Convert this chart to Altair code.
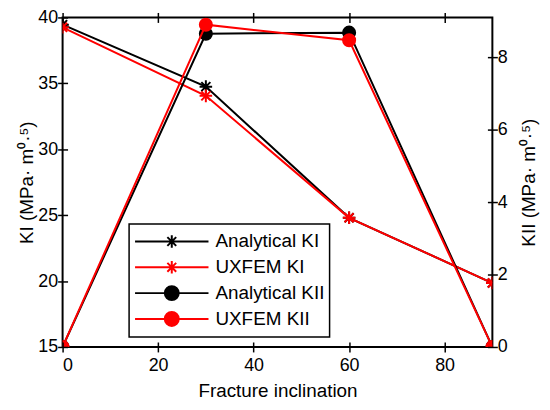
import altair as alt
import pandas as pd

# ---- data ----
angles = [0, 30, 60, 90]
ki_analytical = [39.45, 34.75, 24.8, 19.85]
ki_uxfem = [39.25, 34.05, 24.8, 19.85]
kii_analytical = [0.0, 8.65, 8.68, 0.0]
kii_uxfem = [0.0, 8.9, 8.47, 0.0]

series_names = ["Analytical KI", "UXFEM KI", "Analytical KII", "UXFEM KII"]
series_colors = ["#000000", "#ff0000", "#000000", "#ff0000"]
series_sides = ["left", "left", "right", "right"]
series_values = [ki_analytical, ki_uxfem, kii_analytical, kii_uxfem]

x_ticks = [0, 20, 40, 60, 80]
left_ticks = [15, 20, 25, 30, 35, 40]
right_ticks = [0, 2, 4, 6, 8]

rows = []
for name, vals, side in zip(series_names, series_values, series_sides):
    for a, v in zip(angles, vals):
        rows.append({"angle": a, "value": v, "series": name, "side": side})
df = pd.DataFrame(rows)

FONT = "Liberation Sans"

# marker shapes (unit square -1..1)
STAR = "M-1,0H1M0,-1V1M-0.72,-0.72L0.72,0.72M-0.72,0.72L0.72,-0.72"
LINE = "M-1,0H1"
star_leg = LINE + "M-0.17,0H0.17M0,-0.17V0.17M-0.12,-0.12L0.12,0.12M-0.12,0.12L0.12,-0.12"
circ_leg = LINE + "".join(
    f"M{r},0A{r},{r} 0 1,1 {-r},0A{r},{r} 0 1,1 {r},0" for r in [0.19, 0.155, 0.12, 0.085, 0.05, 0.02]
)
legend_shapes = [star_leg, star_leg, circ_leg, circ_leg]

x_scale = alt.Scale(domain=[0, 90], nice=False)
axis_common = dict(
    ticks=True, tickSize=10, offset=-5, domain=False, grid=False, tickColor="#000000",
    tickWidth=1.5, tickOpacity=1, zindex=2,
    labelColor="black", titleColor="black", labelFontSize=18, titleFontSize=19,
    labelFont=FONT, titleFont=FONT, titleFontWeight="normal",
)

x_bottom = alt.X("angle:Q", scale=x_scale,
                 axis=alt.Axis(values=x_ticks, orient="bottom", title="Fracture inclination",
                               labelPadding=5, titlePadding=7, **axis_common))
x_top = alt.X("angle:Q", scale=x_scale,
              axis=alt.Axis(values=x_ticks, orient="top", labels=False, title="", **axis_common))

y_left = alt.Y("value:Q", scale=alt.Scale(domain=[15, 40], nice=False, zero=False),
               axis=alt.Axis(values=left_ticks, orient="left", title="KI (MPa· m⁰·⁵)",
                             labelPadding=0, titlePadding=1, **axis_common))
y_right = alt.Y("value:Q", scale=alt.Scale(domain=[0, 9.1], nice=False, zero=False),
                axis=alt.Axis(values=right_ticks, orient="right", title="KII (MPa· m⁰·⁵)",
                              labelPadding=0, titlePadding=12, titleAngle=270, titleBaseline="top",
                              **axis_common))

base = alt.Chart(df)


def series_layers(name, color, x_enc, y_enc, star):
    sub = base.transform_filter(alt.datum.series == name)
    line = sub.mark_line(color=color, strokeWidth=2, clip=True).encode(x=x_enc, y=y_enc)
    if star:
        pts = sub.mark_point(shape=STAR, size=160, filled=False, color=color,
                             strokeWidth=2, opacity=1, clip=True).encode(x=x_enc, y=y_enc)
    else:
        pts = sub.mark_point(shape="circle", size=200, filled=True, color=color,
                             opacity=1, clip=True).encode(x=x_enc, y=y_enc)
    return [line, pts]


leg = alt.Legend(
    title=None, orient="none", legendX=67, legendY=208, direction="vertical",
    symbolSize=5476, symbolStrokeWidth=2, symbolOpacity=1,
    labelFontSize=19, labelFont=FONT, labelColor="black", labelOffset=6, labelLimit=300,
    clipHeight=25.5, rowPadding=0, padding=5, strokeColor="black", fillColor="white",
)

dummy = base.transform_filter(alt.datum.side == "left").mark_point(
    filled=False, opacity=0, strokeWidth=2, clip=True
).encode(
    x=x_bottom, y=y_left,
    color=alt.Color("series:N", scale=alt.Scale(domain=series_names, range=series_colors), legend=leg),
    shape=alt.Shape("series:N", scale=alt.Scale(domain=series_names, range=legend_shapes), legend=leg),
)

left_layers = []
for name, color in zip(series_names[:2], series_colors[:2]):
    left_layers += series_layers(name, color, x_bottom, y_left, True)
left_layers.append(dummy)
left = alt.layer(*left_layers)

right_layers = []
for name, color in zip(series_names[2:], series_colors[2:]):
    right_layers += series_layers(name, color, x_top, y_right, False)
right = alt.layer(*right_layers)

chart = alt.layer(left, right).resolve_scale(y="independent").resolve_axis(
    x="independent", y="independent"
).properties(
    width=433, height=332,
    autosize=alt.AutoSizeParams(type="none"),
    padding={"left": 55, "top": 8, "right": 50, "bottom": 62},
).configure_view(stroke="black", strokeWidth=2).configure_legend(strokeWidth=1.5)

chart.save("out.html", embed_options={"renderer": "svg", "actions": False})
